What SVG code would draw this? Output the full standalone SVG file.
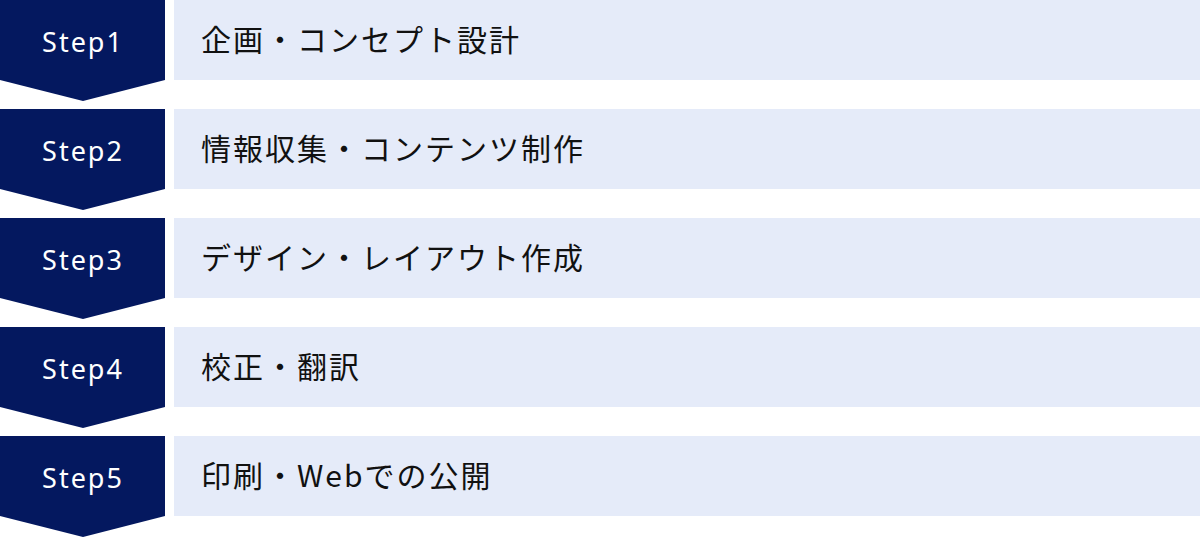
<svg xmlns="http://www.w3.org/2000/svg" width="1200" height="538" viewBox="0 0 1200 538">
<defs>
<style>
.badge{fill:#04185f}
.bar{fill:#e5ebf9}
.step{font-family:"Noto Sans","Noto Sans CJK JP",sans-serif;font-size:27px;fill:#ffffff;letter-spacing:2px;text-anchor:middle}
.label{font-family:"Noto Sans CJK JP","Noto Sans",sans-serif;font-size:30px;fill:#111111;letter-spacing:2px}
</style>
<path id="chev" d="M0 0H165V80L83 101L0 80Z"/>
</defs>
<g id="connectors"></g>
<g id="step1" transform="translate(0,0)">
<use href="#chev" class="badge"/>
<rect class="bar" x="174" y="0" width="1026" height="80"/>
<text class="step" x="83" y="52">Step1</text>
<text class="label" x="201" y="51">企画・コンセプト設計</text>
</g>
<g id="step2" transform="translate(0,109)">
<use href="#chev" class="badge"/>
<rect class="bar" x="174" y="0" width="1026" height="80"/>
<text class="step" x="83" y="52">Step2</text>
<text class="label" x="201" y="51">情報収集・コンテンツ制作</text>
</g>
<g id="step3" transform="translate(0,218)">
<use href="#chev" class="badge"/>
<rect class="bar" x="174" y="0" width="1026" height="80"/>
<text class="step" x="83" y="52">Step3</text>
<text class="label" x="201" y="51">デザイン・レイアウト作成</text>
</g>
<g id="step4" transform="translate(0,327)">
<use href="#chev" class="badge"/>
<rect class="bar" x="174" y="0" width="1026" height="80"/>
<text class="step" x="83" y="52">Step4</text>
<text class="label" x="201" y="51">校正・翻訳</text>
</g>
<g id="step5" transform="translate(0,436)">
<use href="#chev" class="badge"/>
<rect class="bar" x="174" y="0" width="1026" height="80"/>
<text class="step" x="83" y="52">Step5</text>
<text class="label" x="201" y="51">印刷・Webでの公開</text>
</g>
</svg>
